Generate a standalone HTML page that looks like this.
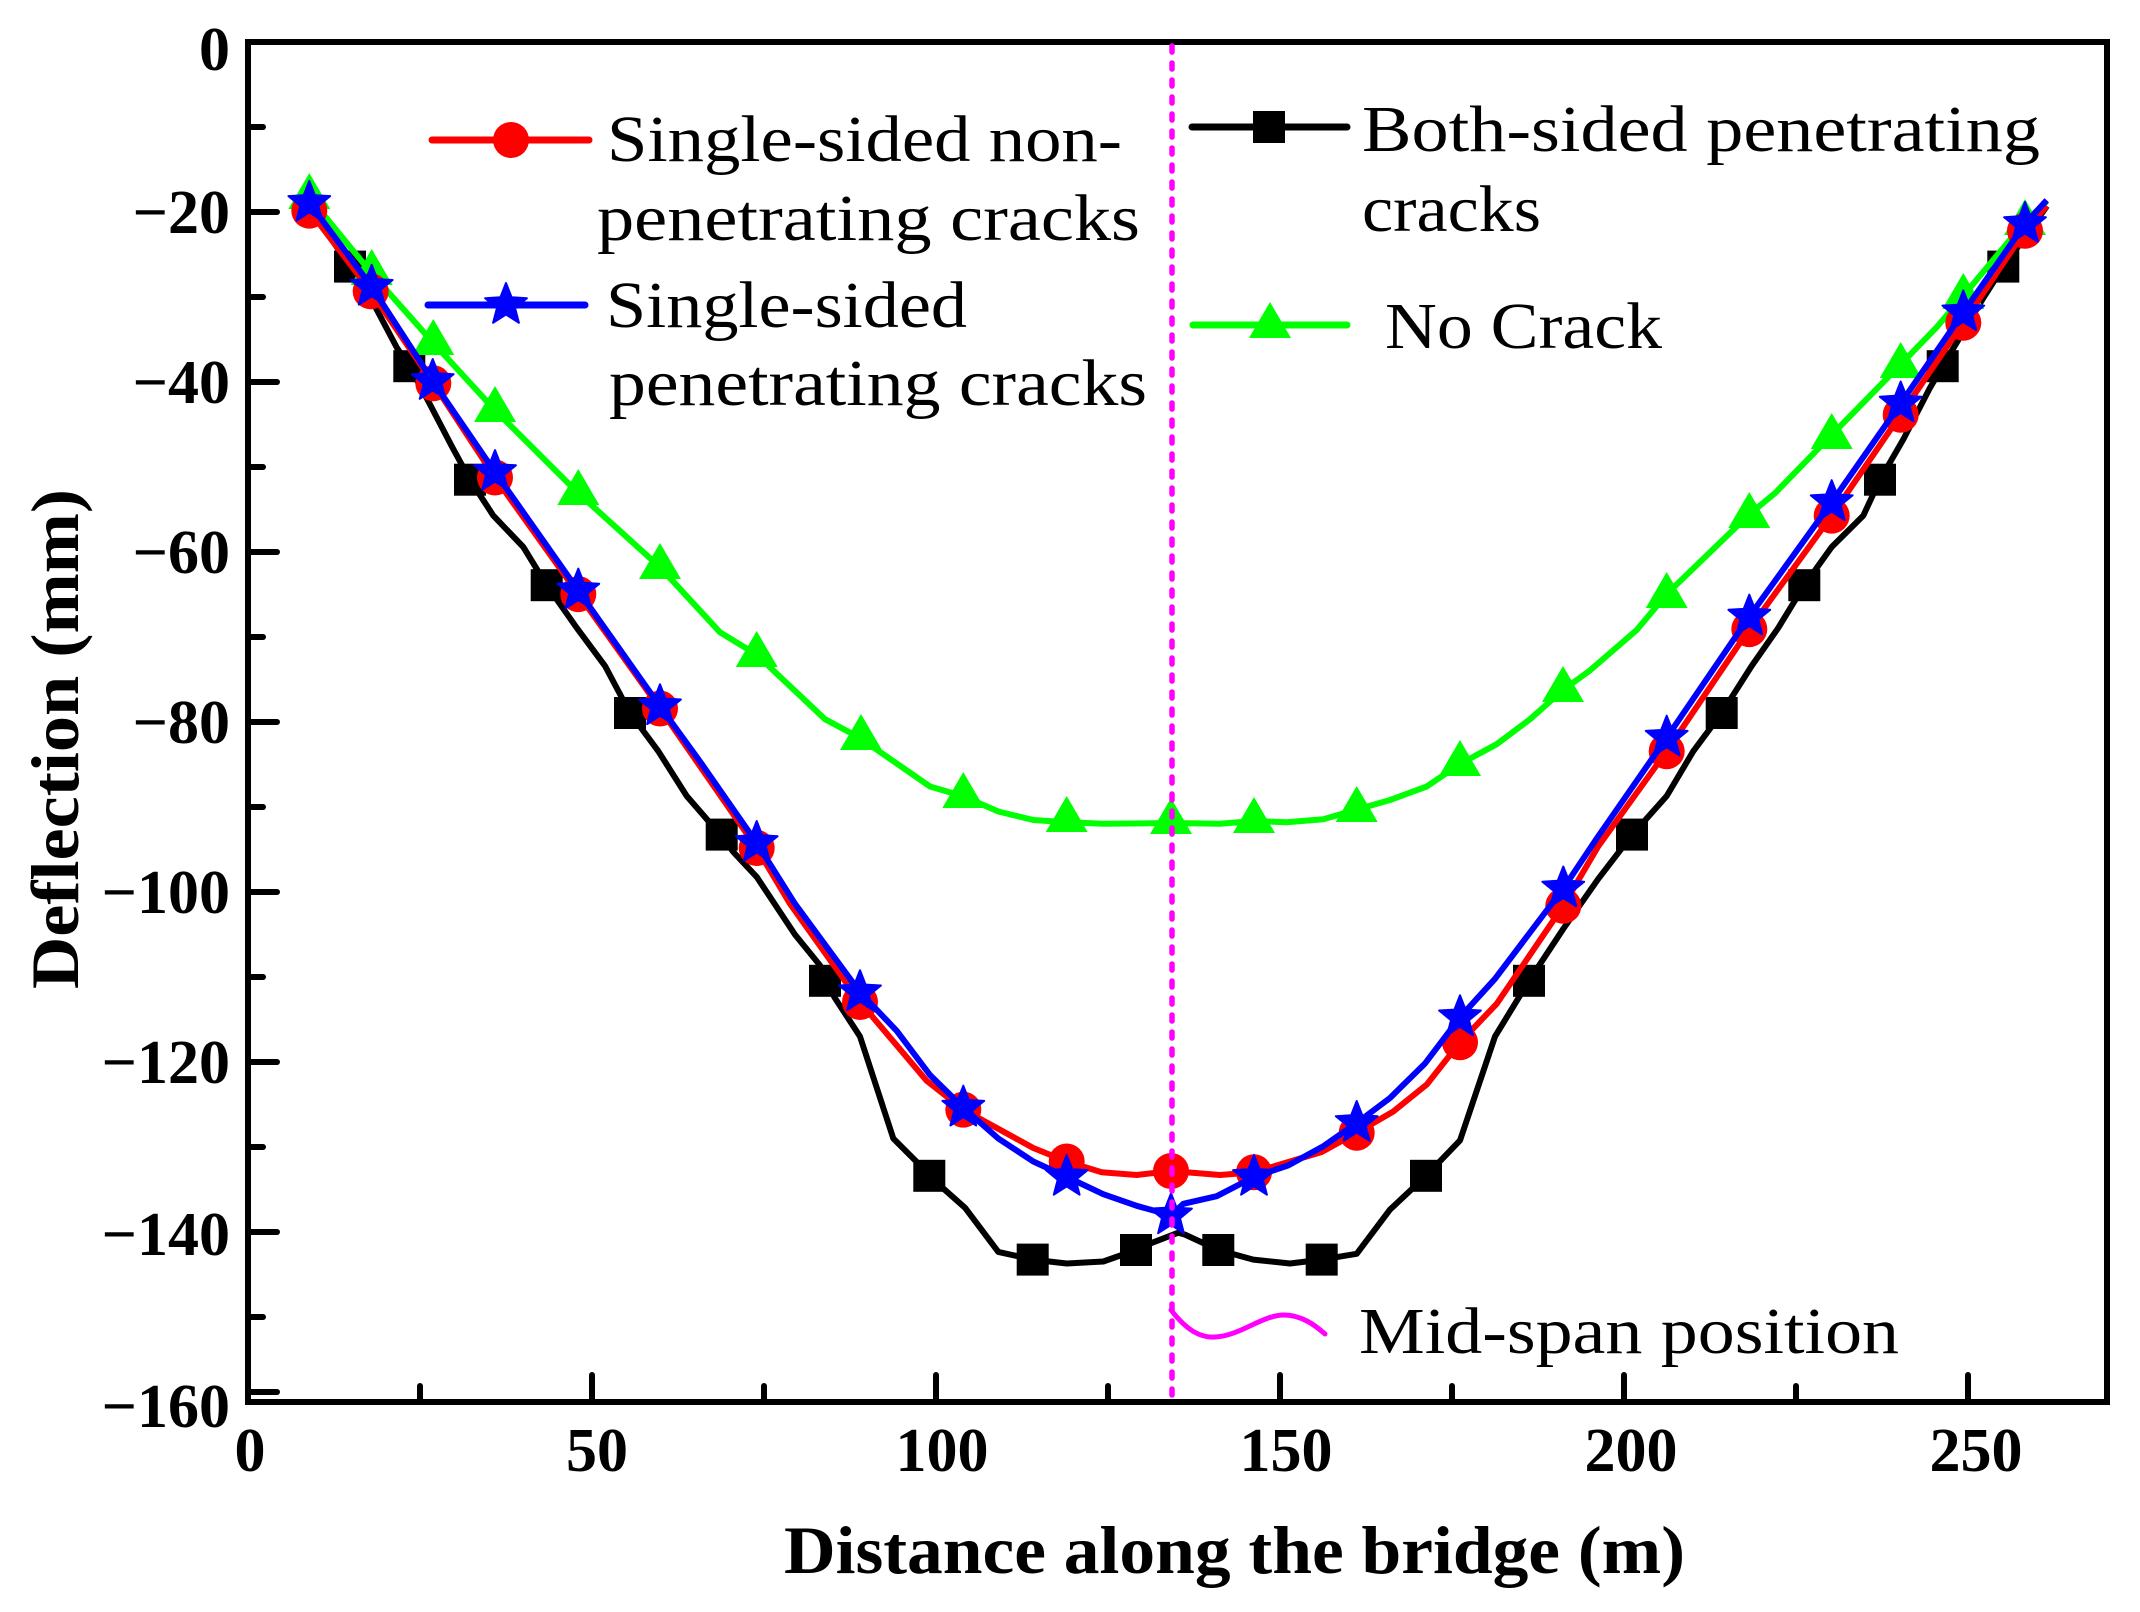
<!DOCTYPE html>
<html>
<head>
<meta charset="utf-8">
<style>
  html, body { margin: 0; padding: 0; background: #ffffff; }
  svg { display: block; }
  .tick { font-family: "Liberation Serif", serif; font-weight: bold; font-size: 62px; fill: #000; }
  .title { font-family: "Liberation Serif", serif; font-weight: bold; font-size: 68px; fill: #000; }
  .leg { font-family: "Liberation Serif", serif; font-size: 66px; fill: #000; }
</style>
</head>
<body>
<svg width="2140" height="1612" viewBox="0 0 2140 1612" xmlns="http://www.w3.org/2000/svg">
  <defs>
    <rect id="sq" x="-16" y="-16" width="32" height="32" fill="#000"/>
    <circle id="ci" cx="0" cy="0" r="18" fill="#ff0000"/>
    <polygon id="st" fill="#0000ff" stroke="#0000ff" stroke-width="2" stroke-linejoin="round"
      points="0,-22 5.6,-7.7 20.9,-6.8 9,2.9 12.9,17.8 0,9.5 -12.9,17.8 -9,2.9 -20.9,-6.8 -5.6,-7.7"/>
    <polygon id="tr" fill="#00ff00" points="0,-24 21,12 -21,12"/>
  </defs>

  <rect x="0" y="0" width="2140" height="1612" fill="#ffffff"/>

  <!-- Frame -->
  <rect x="248" y="42" width="1859" height="1360" fill="none" stroke="#000" stroke-width="6"/>

  <!-- Y ticks -->
  <g stroke="#000" stroke-width="6" stroke-linecap="round">
    <line x1="248" y1="212" x2="277" y2="212"/>
    <line x1="248" y1="382" x2="277" y2="382"/>
    <line x1="248" y1="552" x2="277" y2="552"/>
    <line x1="248" y1="722" x2="277" y2="722"/>
    <line x1="248" y1="892" x2="277" y2="892"/>
    <line x1="248" y1="1062" x2="277" y2="1062"/>
    <line x1="248" y1="1232" x2="277" y2="1232"/>
    <line x1="248" y1="1392" x2="277" y2="1392"/>
    <line x1="248" y1="127" x2="263" y2="127"/>
    <line x1="248" y1="297" x2="263" y2="297"/>
    <line x1="248" y1="467" x2="263" y2="467"/>
    <line x1="248" y1="637" x2="263" y2="637"/>
    <line x1="248" y1="807" x2="263" y2="807"/>
    <line x1="248" y1="977" x2="263" y2="977"/>
    <line x1="248" y1="1147" x2="263" y2="1147"/>
    <line x1="248" y1="1317" x2="263" y2="1317"/>
  </g>
  <!-- X ticks -->
  <g stroke="#000" stroke-width="6" stroke-linecap="round">
    <line x1="592" y1="1402" x2="592" y2="1375"/>
    <line x1="936" y1="1402" x2="936" y2="1375"/>
    <line x1="1280" y1="1402" x2="1280" y2="1375"/>
    <line x1="1624" y1="1402" x2="1624" y2="1375"/>
    <line x1="1968" y1="1402" x2="1968" y2="1375"/>
    <line x1="420" y1="1402" x2="420" y2="1386"/>
    <line x1="764" y1="1402" x2="764" y2="1386"/>
    <line x1="1108" y1="1402" x2="1108" y2="1386"/>
    <line x1="1452" y1="1402" x2="1452" y2="1386"/>
    <line x1="1796" y1="1402" x2="1796" y2="1386"/>
  </g>

  <!-- Y tick labels -->
  <g class="tick" text-anchor="end">
    <text x="230" y="70">0</text>
    <text x="230" y="233">−20</text>
    <text x="230" y="403">−40</text>
    <text x="230" y="573">−60</text>
    <text x="230" y="743">−80</text>
    <text x="230" y="913">−100</text>
    <text x="230" y="1083">−120</text>
    <text x="230" y="1255">−140</text>
    <text x="230" y="1427">−160</text>
  </g>
  <!-- X tick labels -->
  <g class="tick" text-anchor="middle">
    <text x="250" y="1471">0</text>
    <text x="597" y="1471">50</text>
    <text x="942" y="1471">100</text>
    <text x="1286" y="1471">150</text>
    <text x="1631" y="1471">200</text>
    <text x="1976" y="1471">250</text>
  </g>

  <!-- Axis titles -->
  <text class="title" x="784" y="1573" textLength="901" lengthAdjust="spacingAndGlyphs">Distance along the bridge (m)</text>
  <text class="title" transform="translate(78,739) rotate(-90)" text-anchor="middle" textLength="500" lengthAdjust="spacingAndGlyphs">Deflection (mm)</text>

  <!-- Black series -->
  <polyline fill="none" stroke="#000" stroke-width="6" stroke-linejoin="round"
    points="309,206 350,266.6 368.3,293.6 396.7,347.4 409.3,366.2 428.3,401.2 451.7,446.1 470,479.7 493.3,515.6 523.3,547 546.7,585.2 576.7,627.8 605,665.9 630,713 658.3,751.2 686.7,796 721.7,836.4 733.3,851.9 756.7,876.9 795,934.6 820,965.4 825,980.8 835,998.1 860,1036.5 893.3,1138.5 918.3,1163.5 929.3,1175.8 943.3,1188.5 965,1207.7 998.3,1251.9 1032.7,1259.6 1066.7,1263.5 1103.3,1261.5 1136,1250 1153.3,1242.3 1178.3,1232.7 1185,1234.6 1218.3,1250 1253.3,1259.6 1290,1263.5 1321.7,1259.6 1356.7,1253.8 1390,1209.6 1426,1175.8 1460,1140.4 1495,1036.5 1529,980.8 1563.3,928.8 1598.3,878.8 1632.3,834.6 1666.7,796 1693.3,751.2 1721.7,713 1751.7,665.9 1778.3,627.8 1804.3,585.2 1831.7,547 1863.3,515.6 1880,479.7 1903.3,439.4 1930,387.8 1942.7,366.2 1983.3,298 2003.3,266.6 2015,251 2047,206"/>
  <g>
    <use href="#sq" x="350" y="266.6"/>
    <use href="#sq" x="409.3" y="366.2"/>
    <use href="#sq" x="470" y="479.7"/>
    <use href="#sq" x="546.7" y="585.2"/>
    <use href="#sq" x="630" y="713"/>
    <use href="#sq" x="721.7" y="834.6"/>
    <use href="#sq" x="825" y="980.8"/>
    <use href="#sq" x="929.3" y="1175.8"/>
    <use href="#sq" x="1032.7" y="1259.6"/>
    <use href="#sq" x="1136" y="1250"/>
    <use href="#sq" x="1218.3" y="1250"/>
    <use href="#sq" x="1321.7" y="1259.6"/>
    <use href="#sq" x="1426" y="1175.8"/>
    <use href="#sq" x="1529" y="980.8"/>
    <use href="#sq" x="1632" y="834.6"/>
    <use href="#sq" x="1721.7" y="713"/>
    <use href="#sq" x="1804.3" y="585.2"/>
    <use href="#sq" x="1880" y="479.7"/>
    <use href="#sq" x="1942.7" y="366.2"/>
    <use href="#sq" x="2003.3" y="266.6"/>
  </g>

  <!-- Green series -->
  <polyline fill="none" stroke="#00ff00" stroke-width="6" stroke-linejoin="round"
    points="309.3,197.1 371.7,273.4 433.3,342.9 495,410.2 578.3,493.2 660,567.2 720,632.3 756.7,654.7 825,719.2 861,738.5 880,751.9 930,786.5 963.3,796.2 998.3,811.5 1033.3,820 1066.7,822.3 1103.3,823.8 1171,823 1220,823.8 1254,821 1286.7,822.3 1323.3,819.2 1356.7,809.6 1390,800 1426.7,786.5 1460,764 1496.7,744.2 1530,719.2 1563,690 1590,670.4 1636.7,630 1666.7,594.1 1749.3,514.3 1775,493.2 1831.7,434.9 1900.7,364.4 1936.7,327.2 1963.3,295.8 2025,221.8 2046.7,201.6"/>
  <g>
    <use href="#tr" x="309.3" y="197"/>
    <use href="#tr" x="371.7" y="273"/>
    <use href="#tr" x="433.3" y="343"/>
    <use href="#tr" x="495" y="410"/>
    <use href="#tr" x="578.3" y="493"/>
    <use href="#tr" x="660" y="567"/>
    <use href="#tr" x="756.7" y="655"/>
    <use href="#tr" x="861" y="738"/>
    <use href="#tr" x="963.3" y="796"/>
    <use href="#tr" x="1066.7" y="820"/>
    <use href="#tr" x="1171" y="822"/>
    <use href="#tr" x="1254" y="821"/>
    <use href="#tr" x="1356.7" y="810"/>
    <use href="#tr" x="1460" y="764"/>
    <use href="#tr" x="1563" y="690"/>
    <use href="#tr" x="1666.7" y="596"/>
    <use href="#tr" x="1749.3" y="516"/>
    <use href="#tr" x="1831.7" y="437"/>
    <use href="#tr" x="1900.7" y="366"/>
    <use href="#tr" x="1963.3" y="297"/>
    <use href="#tr" x="2025" y="223"/>
  </g>

  <!-- Red series -->
  <polyline fill="none" stroke="#ff0000" stroke-width="6" stroke-linejoin="round"
    points="309.3,210.6 370.7,291.3 433.3,383.3 495,477.5 578.3,594.1 660,708.5 756.7,848 790,903.8 860,1002 926.7,1080.8 963.3,1109.6 1033.3,1148 1066.7,1161.5 1101.7,1172.3 1136.7,1175 1171,1171 1220,1175 1254,1172.3 1321.7,1152 1356.7,1132.7 1393.3,1111.5 1426.7,1084.6 1460,1042.3 1496.7,1003.8 1563.3,905.8 1598.3,846.2 1666.7,751.2 1749.3,629.1 1831.7,515.6 1900.7,414.7 1963.3,322.7 2025,230.8 2046.7,206"/>
  <g>
    <use href="#ci" x="309.3" y="210.6"/>
    <use href="#ci" x="370.7" y="291.3"/>
    <use href="#ci" x="433.3" y="383.3"/>
    <use href="#ci" x="495" y="477.5"/>
    <use href="#ci" x="578.3" y="594.1"/>
    <use href="#ci" x="660" y="708.5"/>
    <use href="#ci" x="756.7" y="848"/>
    <use href="#ci" x="860" y="1002"/>
    <use href="#ci" x="963.3" y="1109.6"/>
    <use href="#ci" x="1066.7" y="1161.5"/>
    <use href="#ci" x="1171" y="1171"/>
    <use href="#ci" x="1254" y="1172.3"/>
    <use href="#ci" x="1356.7" y="1132.7"/>
    <use href="#ci" x="1460" y="1042.3"/>
    <use href="#ci" x="1563.3" y="905.8"/>
    <use href="#ci" x="1666.7" y="751.2"/>
    <use href="#ci" x="1749.3" y="629.1"/>
    <use href="#ci" x="1831.7" y="515.6"/>
    <use href="#ci" x="1900.7" y="414.7"/>
    <use href="#ci" x="1963.3" y="322.7"/>
    <use href="#ci" x="2025" y="230.8"/>
  </g>

  <!-- Blue series -->
  <polyline fill="none" stroke="#0000ff" stroke-width="6" stroke-linejoin="round"
    points="309.3,202.9 371.7,286.8 432.7,381 495,472.1 578.3,590.6 660,706.3 700,761.5 756.7,843 795,903.8 860,992.3 896.7,1030.8 930,1075 963.3,1107.7 998.3,1138.5 1033.3,1161.5 1066.7,1176.9 1103.3,1194.2 1136.7,1205.8 1171,1215.4 1183.3,1203.8 1216.7,1196.2 1254,1176.9 1288.3,1165.4 1323.3,1146.2 1356.7,1123 1390,1098 1425,1063.5 1460,1017.3 1495,978.8 1563.3,888.5 1596.7,838.5 1666.7,737.7 1749.3,616.6 1831.7,502.2 1900.7,403.5 1963.3,312.4 2025,224 2046.7,200.2"/>
  <g>
    <use href="#st" x="309.3" y="202.9"/>
    <use href="#st" x="371.7" y="286.8"/>
    <use href="#st" x="432.7" y="381"/>
    <use href="#st" x="495" y="472.1"/>
    <use href="#st" x="578.3" y="590.6"/>
    <use href="#st" x="660" y="706.3"/>
    <use href="#st" x="756.7" y="843"/>
    <use href="#st" x="860" y="992.3"/>
    <use href="#st" x="963.3" y="1107.7"/>
    <use href="#st" x="1066.7" y="1176.9"/>
    <use href="#st" x="1171" y="1215.4"/>
    <use href="#st" x="1254" y="1176.9"/>
    <use href="#st" x="1356.7" y="1123"/>
    <use href="#st" x="1460" y="1017.3"/>
    <use href="#st" x="1563.3" y="888.5"/>
    <use href="#st" x="1666.7" y="737.7"/>
    <use href="#st" x="1749.3" y="616.6"/>
    <use href="#st" x="1831.7" y="502.2"/>
    <use href="#st" x="1900.7" y="403.5"/>
    <use href="#st" x="1963.3" y="312.4"/>
    <use href="#st" x="2025" y="224"/>
  </g>

  <!-- Mid-span dashed line -->
  <line x1="1172" y1="46" x2="1172" y2="1400" stroke="#ff00ff" stroke-width="5.5" stroke-linecap="round" stroke-dasharray="6 11"/>
  <path d="M1171,1310 C1188,1332 1202,1338 1215,1337 C1240,1336 1262,1315 1284,1315 C1302,1315 1316,1326 1325,1334"
        fill="none" stroke="#ff00ff" stroke-width="5" stroke-linecap="round"/>
  <text class="leg" x="1359" y="1353" textLength="540" lengthAdjust="spacingAndGlyphs">Mid-span position</text>

  <!-- Legend -->
  <line x1="432" y1="140" x2="589" y2="140" stroke="#ff0000" stroke-width="7" stroke-linecap="round"/>
  <use href="#ci" x="511" y="140"/>
  <text class="leg" x="607" y="161" textLength="515" lengthAdjust="spacingAndGlyphs">Single-sided non-</text>
  <text class="leg" x="597" y="240" textLength="543" lengthAdjust="spacingAndGlyphs">penetrating cracks</text>

  <line x1="428" y1="305" x2="585" y2="305" stroke="#0000ff" stroke-width="7" stroke-linecap="round"/>
  <use href="#st" x="506" y="305"/>
  <text class="leg" x="606" y="327" textLength="361" lengthAdjust="spacingAndGlyphs">Single-sided</text>
  <text class="leg" x="609" y="405" textLength="538" lengthAdjust="spacingAndGlyphs">penetrating cracks</text>

  <line x1="1192" y1="127" x2="1347" y2="127" stroke="#000" stroke-width="7" stroke-linecap="round"/>
  <use href="#sq" x="1269" y="127"/>
  <text class="leg" x="1362" y="151" textLength="678" lengthAdjust="spacingAndGlyphs">Both-sided penetrating</text>
  <text class="leg" x="1362" y="231" textLength="179" lengthAdjust="spacingAndGlyphs">cracks</text>

  <line x1="1193" y1="325" x2="1347" y2="325" stroke="#00ff00" stroke-width="7" stroke-linecap="round"/>
  <use href="#tr" x="1270" y="326"/>
  <text class="leg" x="1385" y="348" textLength="277" lengthAdjust="spacingAndGlyphs">No Crack</text>
</svg>
</body>
</html>
